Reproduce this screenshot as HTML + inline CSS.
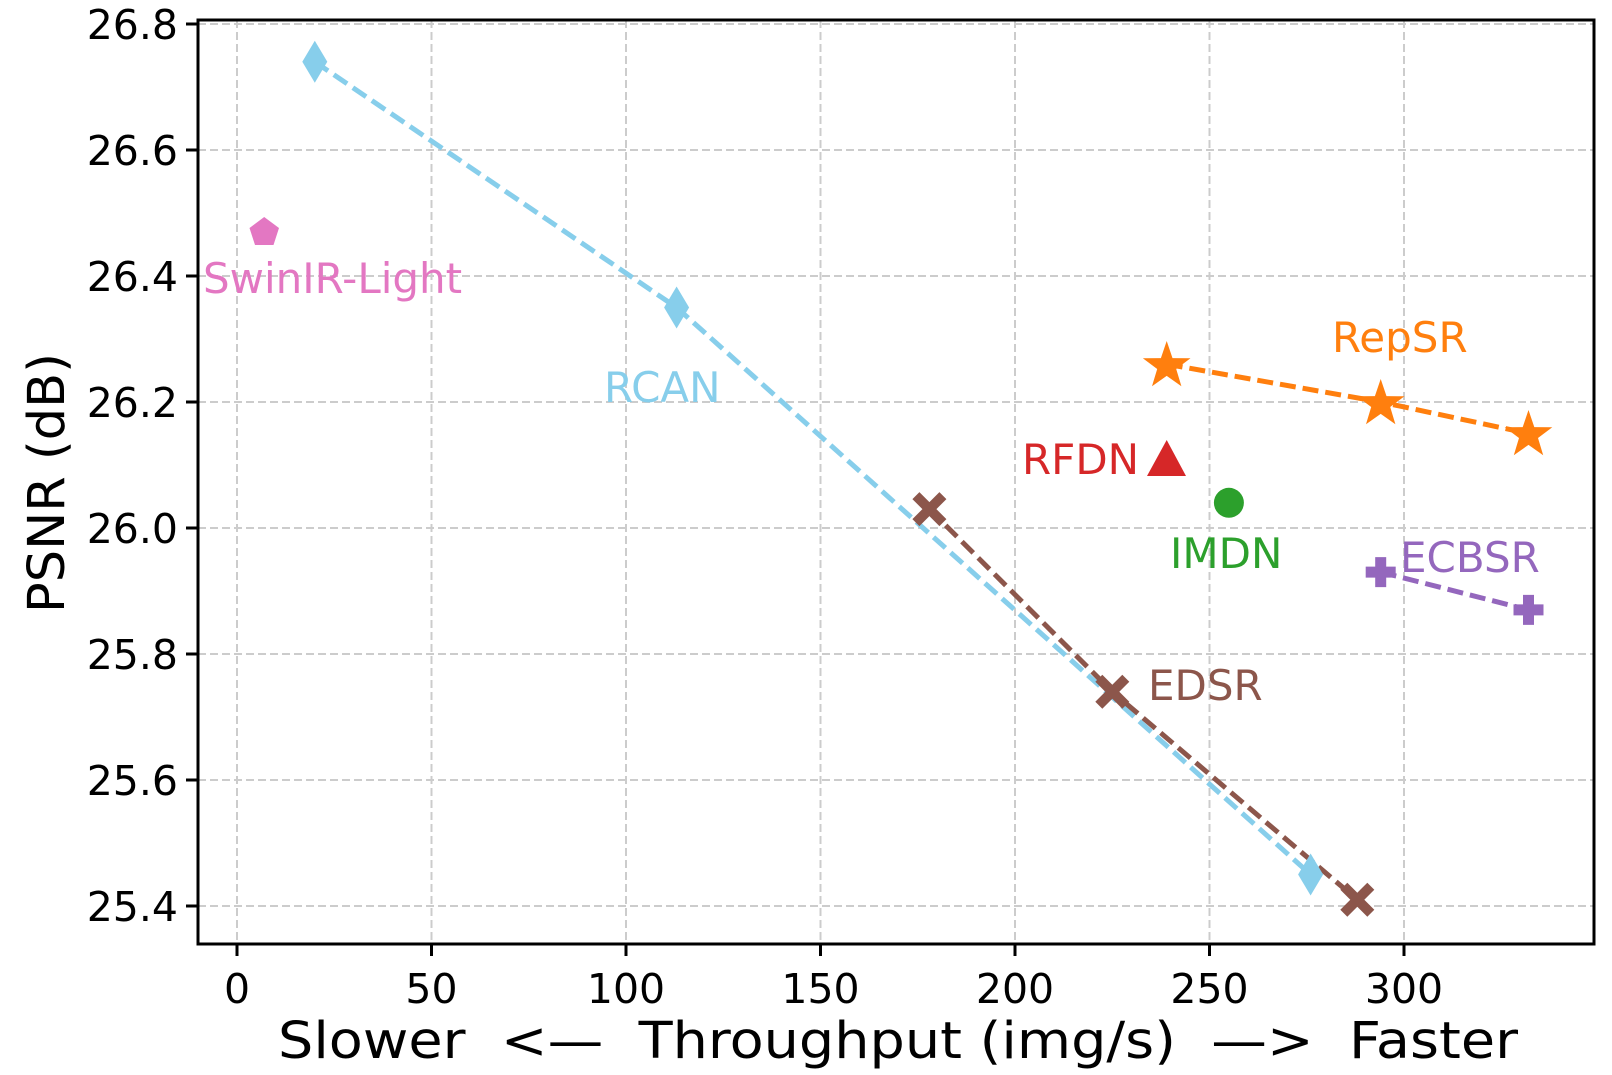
<!DOCTYPE html>
<html><head><meta charset="utf-8"><style>html,body{margin:0;padding:0;background:#fff}svg{display:block}</style></head><body>
<svg width="1612" height="1075" viewBox="0 0 1612 1075" xmlns="http://www.w3.org/2000/svg" font-family="DejaVu Sans, Liberation Sans, sans-serif">
<rect width="1612" height="1075" fill="#fff"/>
<g stroke="#cccccc" stroke-width="2" stroke-dasharray="8,4" fill="none">
<line x1="237" y1="20" x2="237" y2="944"/><line x1="431.5" y1="20" x2="431.5" y2="944"/><line x1="626" y1="20" x2="626" y2="944"/><line x1="820.5" y1="20" x2="820.5" y2="944"/><line x1="1015" y1="20" x2="1015" y2="944"/><line x1="1209.5" y1="20" x2="1209.5" y2="944"/><line x1="1404" y1="20" x2="1404" y2="944"/>
<line x1="198" y1="24" x2="1594" y2="24"/><line x1="198" y1="150" x2="1594" y2="150"/><line x1="198" y1="276" x2="1594" y2="276"/><line x1="198" y1="402" x2="1594" y2="402"/><line x1="198" y1="528" x2="1594" y2="528"/><line x1="198" y1="654" x2="1594" y2="654"/><line x1="198" y1="780" x2="1594" y2="780"/><line x1="198" y1="906" x2="1594" y2="906"/>
</g>
<g stroke-width="5" stroke-dasharray="16,7" fill="none">
<polyline stroke="#87ceeb" points="314.8,61.8 676.6,307.5 1310.6,874.5"/>
<polyline stroke="#8c564b" points="929.4,509.1 1112.3,691.8 1357.3,899.7"/>
<polyline stroke="#ff7f0e" points="1166.7,364.2 1380.7,402 1528.5,433.5"/>
<polyline stroke="#9467bd" points="1380.7,572.1 1528.5,609.9"/>
</g>
<defs>
<path id="dia" d="M0,-21 L12.5,0 L0,21 L-12.5,0Z" fill="#87ceeb"/>
<path id="xm" d="M-17,-10 L-10,-17 L0,-7 L10,-17 L17,-10 L7,0 L17,10 L10,17 L0,7 L-10,17 L-17,10 L-7,0Z" fill="#8c564b"/>
<path id="star" d="M0,-25 L5.8,-7.9 L23.8,-7.7 L9.5,3 L14.7,20.2 L0,9.9 L-14.7,20.2 L-9.5,3 L-23.8,-7.7 L-5.8,-7.9Z" fill="#ff7f0e"/>
<path id="pl" d="M-5.5,-15 L5.5,-15 L5.5,-5.5 L15,-5.5 L15,5.5 L5.5,5.5 L5.5,15 L-5.5,15 L-5.5,5.5 L-15,5.5 L-15,-5.5 L-5.5,-5.5Z" fill="#9467bd"/>
</defs>
<use href="#dia" x="314.8" y="61.8"/><use href="#dia" x="676.6" y="307.5"/><use href="#dia" x="1310.6" y="874.5"/>
<use href="#xm" x="929.4" y="509.1"/><use href="#xm" x="1112.3" y="691.8"/><use href="#xm" x="1357.3" y="899.7"/>
<use href="#star" x="1166.7" y="366"/><use href="#star" x="1380.7" y="404"/><use href="#star" x="1528.5" y="435"/>
<use href="#pl" x="1380.7" y="572.1"/><use href="#pl" x="1528.5" y="609.9"/>
<path d="M1166.7,440 L1186,476 L1147,476Z" fill="#d62728"/>
<circle cx="1228.9" cy="502.8" r="15" fill="#2ca02c"/>
<path d="M264.2,217 L279,228 L273.5,245 L255,245 L249.5,228Z" fill="#e377c2"/>
<g font-size="42">
<text x="203" y="293" fill="#e377c2">SwinIR-Light</text>
<text x="604" y="402" fill="#87ceeb">RCAN</text>
<text x="1332" y="352" fill="#ff7f0e">RepSR</text>
<text x="1022" y="474" fill="#d62728">RFDN</text>
<text x="1170" y="568" fill="#2ca02c">IMDN</text>
<text x="1400" y="572" fill="#9467bd">ECBSR</text>
<text x="1148" y="700" fill="#8c564b">EDSR</text>
</g>
<rect x="198" y="20" width="1396" height="924" fill="none" stroke="#000" stroke-width="3"/>
<g stroke="#000" stroke-width="3">
<line x1="186" y1="24" x2="198" y2="24"/><line x1="186" y1="150" x2="198" y2="150"/><line x1="186" y1="276" x2="198" y2="276"/><line x1="186" y1="402" x2="198" y2="402"/><line x1="186" y1="528" x2="198" y2="528"/><line x1="186" y1="654" x2="198" y2="654"/><line x1="186" y1="780" x2="198" y2="780"/><line x1="186" y1="906" x2="198" y2="906"/>
<line x1="237" y1="944" x2="237" y2="956"/><line x1="431.5" y1="944" x2="431.5" y2="956"/><line x1="626" y1="944" x2="626" y2="956"/><line x1="820.5" y1="944" x2="820.5" y2="956"/><line x1="1015" y1="944" x2="1015" y2="956"/><line x1="1209.5" y1="944" x2="1209.5" y2="956"/><line x1="1404" y1="944" x2="1404" y2="956"/>
</g>
<g font-size="41" text-anchor="end">
<text x="178" y="39">26.8</text><text x="178" y="165">26.6</text><text x="178" y="291">26.4</text><text x="178" y="417">26.2</text><text x="178" y="543">26.0</text><text x="178" y="669">25.8</text><text x="178" y="795">25.6</text><text x="178" y="921">25.4</text>
</g>
<g font-size="41" text-anchor="middle">
<text x="237" y="1003">0</text><text x="431.5" y="1003">50</text><text x="626" y="1003">100</text><text x="820.5" y="1003">150</text><text x="1015" y="1003">200</text><text x="1209.5" y="1003">250</text><text x="1404" y="1003">300</text>
</g>
<text x="898" y="1058" font-size="51" text-anchor="middle" textLength="1240" lengthAdjust="spacingAndGlyphs" xml:space="preserve">Slower  &lt;—  Throughput (img/s)  —&gt;  Faster</text>
<text transform="translate(64,483) rotate(-90)" font-size="51" text-anchor="middle">PSNR (dB)</text>
</svg>
</body></html>
